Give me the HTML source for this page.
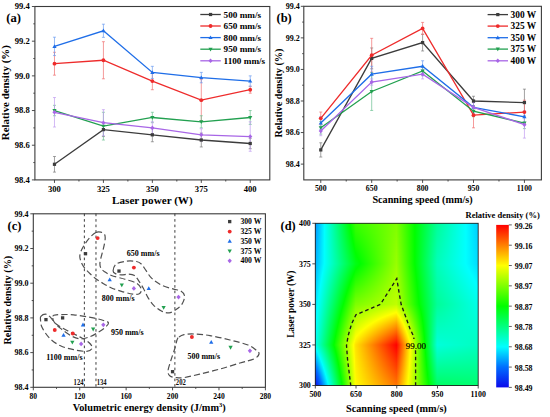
<!DOCTYPE html>
<html><head><meta charset="utf-8"><style>
html,body{margin:0;padding:0;background:#fff;width:550px;height:417px;overflow:hidden;font-family:"Liberation Serif",serif}
body{position:relative}
#hm{position:absolute;overflow:hidden}#hm div{position:absolute;left:0;width:100%;height:1px}
</style></head><body>
<div id="hm" style="left:315.3px;top:223px;width:162.9px;height:163px"><div style="top:0px;background:linear-gradient(90deg,#0092ff 0px,#00ffff 9.52px,#00ff00 34.84px,#3bff00 40.72px,#7eff00 81.45px,#00ff00 99.87px,#00ff99 122.18px,#00ffff 150.87px,#00ceff 162.9px)"></div><div style="top:1px;background:linear-gradient(90deg,#0093ff 0px,#00ffff 9.52px,#00ff00 35px,#39ff00 40.72px,#7fff00 81.45px,#00ff00 99.87px,#00ff99 122.18px,#00ffff 150.86px,#00ceff 162.9px)"></div><div style="top:2px;background:linear-gradient(90deg,#0093ff 0px,#00ffff 9.52px,#00ff00 35.16px,#37ff00 40.72px,#7fff00 81.45px,#00ff00 99.87px,#00ff9a 122.18px,#00ffff 150.86px,#00cfff 162.9px)"></div><div style="top:3px;background:linear-gradient(90deg,#0094ff 0px,#00ffff 9.51px,#00ff00 35.33px,#35ff00 40.72px,#80ff00 81.45px,#00ff00 99.87px,#00ff9b 122.18px,#00ffff 150.86px,#00cfff 162.9px)"></div><div style="top:4px;background:linear-gradient(90deg,#0095ff 0px,#00ffff 9.51px,#00ff00 35.49px,#33ff00 40.72px,#81ff00 81.45px,#00ff00 99.87px,#00ff9c 122.18px,#00ffff 150.85px,#00d0ff 162.9px)"></div><div style="top:5px;background:linear-gradient(90deg,#0096ff 0px,#00ffff 9.5px,#00ff00 35.66px,#31ff00 40.72px,#81ff00 81.45px,#00ff00 99.86px,#00ff9d 122.18px,#00ffff 150.85px,#00d0ff 162.9px)"></div><div style="top:6px;background:linear-gradient(90deg,#0096ff 0px,#00ffff 9.5px,#00ff00 35.83px,#2fff00 40.72px,#82ff00 81.45px,#00ff00 99.86px,#00ff9d 122.18px,#00ffff 150.85px,#00d0ff 162.9px)"></div><div style="top:7px;background:linear-gradient(90deg,#0097ff 0px,#00ffff 9.49px,#00ff00 36px,#2dff00 40.72px,#83ff00 81.45px,#00ff00 99.86px,#00ff9e 122.18px,#00ffff 150.84px,#00d1ff 162.9px)"></div><div style="top:8px;background:linear-gradient(90deg,#0098ff 0px,#00ffff 9.49px,#00ff00 36.17px,#2cff00 40.72px,#83ff00 81.45px,#00ff00 99.86px,#00ff9f 122.18px,#00ffff 150.84px,#00d1ff 162.9px)"></div><div style="top:9px;background:linear-gradient(90deg,#0099ff 0px,#00ffff 9.48px,#00ff00 36.35px,#2aff00 40.72px,#84ff00 81.45px,#00ff00 99.86px,#00ffa0 122.18px,#00ffff 150.84px,#00d1ff 162.9px)"></div><div style="top:10px;background:linear-gradient(90deg,#0099ff 0px,#00ffff 9.48px,#00ff00 36.52px,#28ff00 40.72px,#85ff00 81.45px,#00ff00 99.86px,#00ffa1 122.18px,#00ffff 150.83px,#00d2ff 162.9px)"></div><div style="top:11px;background:linear-gradient(90deg,#009aff 0px,#00ffff 9.47px,#00ff00 36.7px,#26ff00 40.72px,#85ff00 81.45px,#00ff00 99.86px,#00ffa1 122.18px,#00ffff 150.83px,#00d2ff 162.9px)"></div><div style="top:12px;background:linear-gradient(90deg,#009bff 0px,#00ffff 9.47px,#00ff00 36.89px,#24ff00 40.72px,#86ff00 81.45px,#00ff00 99.85px,#00ffa2 122.18px,#00ffff 150.83px,#00d3ff 162.9px)"></div><div style="top:13px;background:linear-gradient(90deg,#009cff 0px,#00ffff 9.46px,#00ff00 37.07px,#22ff00 40.72px,#86ff00 81.45px,#00ff00 99.85px,#00ffa3 122.18px,#00ffff 150.82px,#00d3ff 162.9px)"></div><div style="top:14px;background:linear-gradient(90deg,#009cff 0px,#00ffff 9.46px,#00ff00 37.26px,#20ff00 40.72px,#87ff00 81.45px,#00ff00 99.85px,#00ffa4 122.18px,#00ffff 150.82px,#00d3ff 162.9px)"></div><div style="top:15px;background:linear-gradient(90deg,#009dff 0px,#00ffff 9.45px,#00ff00 37.45px,#1eff00 40.72px,#88ff00 81.45px,#00ff00 99.85px,#00ffa5 122.18px,#00ffff 150.81px,#00d4ff 162.9px)"></div><div style="top:16px;background:linear-gradient(90deg,#009eff 0px,#00ffff 9.45px,#00ff00 37.64px,#1cff00 40.72px,#88ff00 81.45px,#00ff00 99.85px,#00ffa6 122.18px,#00ffff 150.81px,#00d4ff 162.9px)"></div><div style="top:17px;background:linear-gradient(90deg,#009fff 0px,#00ffff 9.44px,#00ff00 37.84px,#1aff00 40.72px,#89ff00 81.45px,#00ff00 99.85px,#00ffa6 122.18px,#00ffff 150.81px,#00d4ff 162.9px)"></div><div style="top:18px;background:linear-gradient(90deg,#009fff 0px,#00ffff 9.44px,#00ff00 38.04px,#18ff00 40.72px,#8aff00 81.45px,#00ff00 99.84px,#00ffa7 122.18px,#00ffff 150.8px,#00d5ff 162.9px)"></div><div style="top:19px;background:linear-gradient(90deg,#00a0ff 0px,#00ffff 9.43px,#00ff00 38.24px,#16ff00 40.72px,#8aff00 81.45px,#00ff00 99.84px,#00ffa8 122.18px,#00ffff 150.8px,#00d5ff 162.9px)"></div><div style="top:20px;background:linear-gradient(90deg,#00a1ff 0px,#00ffff 9.43px,#00ff00 38.45px,#14ff00 40.72px,#8bff00 81.45px,#00ff00 99.84px,#00ffa9 122.18px,#00ffff 150.79px,#00d6ff 162.9px)"></div><div style="top:21px;background:linear-gradient(90deg,#00a2ff 0px,#00ffff 9.42px,#00ff00 38.65px,#12ff00 40.72px,#8cff00 81.45px,#00ff00 99.84px,#00ffaa 122.18px,#00ffff 150.79px,#00d6ff 162.9px)"></div><div style="top:22px;background:linear-gradient(90deg,#00a2ff 0px,#00ffff 9.42px,#00ff00 38.87px,#10ff00 40.72px,#8cff00 81.45px,#00ff00 99.84px,#00ffaa 122.18px,#00ffff 150.78px,#00d6ff 162.9px)"></div><div style="top:23px;background:linear-gradient(90deg,#00a3ff 0px,#00ffff 9.41px,#00ff00 39.08px,#0eff00 40.72px,#8dff00 81.45px,#00ff00 99.84px,#00ffab 122.18px,#00ffff 150.78px,#00d7ff 162.9px)"></div><div style="top:24px;background:linear-gradient(90deg,#00a4ff 0px,#00ffff 9.4px,#00ff00 39.3px,#0cff00 40.72px,#8eff00 81.45px,#00ff00 99.84px,#00ffac 122.18px,#00ffff 150.77px,#00d7ff 162.9px)"></div><div style="top:25px;background:linear-gradient(90deg,#00a5ff 0px,#00ffff 9.4px,#00ff00 39.52px,#0aff00 40.72px,#8eff00 81.45px,#00ff00 99.84px,#00ffad 122.18px,#00ffff 150.77px,#00d7ff 162.9px)"></div><div style="top:26px;background:linear-gradient(90deg,#00a5ff 0px,#00ffff 9.39px,#00ff00 39.74px,#08ff00 40.72px,#8fff00 81.45px,#00ff00 99.83px,#00ffae 122.18px,#00ffff 150.76px,#00d8ff 162.9px)"></div><div style="top:27px;background:linear-gradient(90deg,#00a6ff 0px,#00ffff 9.39px,#00ff00 39.97px,#06ff00 40.72px,#90ff00 81.45px,#00ff00 99.83px,#00ffaf 122.18px,#00ffff 150.76px,#00d8ff 162.9px)"></div><div style="top:28px;background:linear-gradient(90deg,#00a7ff 0px,#00ffff 9.38px,#00ff00 40.2px,#04ff00 40.72px,#90ff00 81.45px,#00ff00 99.83px,#00ffaf 122.18px,#00ffff 150.75px,#00d9ff 162.9px)"></div><div style="top:29px;background:linear-gradient(90deg,#00a7ff 0px,#00ffff 9.37px,#00ff00 40.44px,#02ff00 40.72px,#91ff00 81.45px,#00ff00 99.83px,#00ffb0 122.18px,#00ffff 150.75px,#00d9ff 162.9px)"></div><div style="top:30px;background:linear-gradient(90deg,#00a8ff 0px,#00ffff 9.37px,#00ff00 40.67px,#00ff00 40.72px,#92ff00 81.45px,#00ff00 99.83px,#00ffb1 122.18px,#00ffff 150.74px,#00d9ff 162.9px)"></div><div style="top:31px;background:linear-gradient(90deg,#00a9ff 0px,#00ffff 9.36px,#00ff02 40.72px,#00ff00 41.15px,#92ff00 81.45px,#00ff00 99.83px,#00ffb2 122.18px,#00ffff 150.74px,#00daff 162.9px)"></div><div style="top:32px;background:linear-gradient(90deg,#00aaff 0px,#00ffff 9.36px,#00ff04 40.72px,#00ff00 41.67px,#93ff00 81.45px,#00ff00 99.83px,#00ffb3 122.18px,#00ffff 150.73px,#00daff 162.9px)"></div><div style="top:33px;background:linear-gradient(90deg,#00aaff 0px,#00ffff 9.35px,#00ff05 40.72px,#00ff00 42.18px,#94ff00 81.45px,#00ff00 99.82px,#00ffb3 122.18px,#00ffff 150.73px,#00daff 162.9px)"></div><div style="top:34px;background:linear-gradient(90deg,#00abff 0px,#00ffff 9.34px,#00ff07 40.72px,#00ff00 42.67px,#94ff00 81.45px,#00ff00 99.82px,#00ffb4 122.18px,#00ffff 150.72px,#00dbff 162.9px)"></div><div style="top:35px;background:linear-gradient(90deg,#00acff 0px,#00ffff 9.33px,#00ff09 40.72px,#00ff00 43.14px,#95ff00 81.45px,#00ff00 99.82px,#00ffb5 122.18px,#00ffff 150.72px,#00dbff 162.9px)"></div><div style="top:36px;background:linear-gradient(90deg,#00adff 0px,#00ffff 9.33px,#00ff0b 40.72px,#00ff00 43.6px,#95ff00 81.45px,#00ff00 99.82px,#00ffb6 122.18px,#00ffff 150.71px,#00dbff 162.9px)"></div><div style="top:37px;background:linear-gradient(90deg,#00adff 0px,#00ffff 9.32px,#00ff0d 40.72px,#00ff00 44.04px,#96ff00 81.45px,#00ff00 99.82px,#00ffb7 122.18px,#00ffff 150.7px,#00dcff 162.9px)"></div><div style="top:38px;background:linear-gradient(90deg,#00aeff 0px,#00ffff 9.31px,#00ff0f 40.72px,#00ff00 44.47px,#97ff00 81.45px,#00ff00 99.82px,#00ffb8 122.18px,#00ffff 150.7px,#00dcff 162.9px)"></div><div style="top:39px;background:linear-gradient(90deg,#00afff 0px,#00ffff 9.31px,#00ff11 40.72px,#00ff00 44.88px,#97ff00 81.45px,#00ff00 99.82px,#00ffb8 122.18px,#00ffff 150.69px,#00ddff 162.9px)"></div><div style="top:40px;background:linear-gradient(90deg,#00b0ff 0px,#00ffff 9.3px,#00ff13 40.72px,#00ff00 45.29px,#98ff00 81.45px,#00ff00 99.82px,#00ffb9 122.18px,#00ffff 150.68px,#00ddff 162.9px)"></div><div style="top:41px;background:linear-gradient(90deg,#00b1ff 0px,#00ffff 9.16px,#00ff12 40.72px,#00ff00 44.91px,#99ff00 81.45px,#00ff00 99.89px,#00ffb9 122.18px,#00ffff 150.99px,#00deff 162.9px)"></div><div style="top:42px;background:linear-gradient(90deg,#00b2ff 0px,#00ffff 8.95px,#00ff0e 40.72px,#00ff00 44.11px,#9aff00 81.45px,#00ff00 100px,#00ffb8 122.18px,#00ffff 151.47px,#00e0ff 162.9px)"></div><div style="top:43px;background:linear-gradient(90deg,#00b3ff 0px,#00ffff 8.75px,#00ff0a 40.72px,#00ff00 43.27px,#9bff00 81.45px,#00ff00 100.11px,#00ffb7 122.18px,#00ffff 151.96px,#00e1ff 162.9px)"></div><div style="top:44px;background:linear-gradient(90deg,#00b4ff 0px,#00ffff 8.55px,#00ff07 40.72px,#00ff00 42.42px,#9cff00 81.45px,#00ff00 100.21px,#00ffb6 122.18px,#00ffff 152.45px,#00e3ff 162.9px)"></div><div style="top:45px;background:linear-gradient(90deg,#00b5ff 0px,#00ffff 8.35px,#00ff03 40.72px,#00ff00 41.53px,#9dff00 81.45px,#00ff00 100.32px,#00ffb6 122.18px,#00ffff 152.94px,#00e4ff 162.9px)"></div><div style="top:46px;background:linear-gradient(90deg,#00b6ff 0px,#00ffff 8.16px,#00ff00 40.67px,#00ff00 40.72px,#9eff00 81.45px,#00ff00 100.43px,#00ffb5 122.18px,#00ffff 153.45px,#00e6ff 162.9px)"></div><div style="top:47px;background:linear-gradient(90deg,#00b7ff 0px,#00ffff 7.97px,#00ff00 40.22px,#04ff00 40.72px,#9fff00 81.45px,#00ff00 100.54px,#00ffb4 122.18px,#00ffff 153.95px,#00e7ff 162.9px)"></div><div style="top:48px;background:linear-gradient(90deg,#00b8ff 0px,#00ffff 7.78px,#00ff00 39.77px,#08ff00 40.72px,#a0ff00 81.45px,#00ff00 100.65px,#00ffb3 122.18px,#00ffff 154.46px,#00e8ff 162.9px)"></div><div style="top:49px;background:linear-gradient(90deg,#00baff 0px,#00ffff 7.6px,#00ff00 39.33px,#0bff00 40.72px,#a1ff00 81.45px,#00ff00 100.76px,#00ffb2 122.18px,#00ffff 154.98px,#00eaff 162.9px)"></div><div style="top:50px;background:linear-gradient(90deg,#00bbff 0px,#00ffff 7.42px,#00ff00 38.9px,#0fff00 40.72px,#a2ff00 81.45px,#00ff00 100.87px,#00ffb2 122.18px,#00ffff 155.5px,#00ebff 162.9px)"></div><div style="top:51px;background:linear-gradient(90deg,#00bcff 0px,#00ffff 7.24px,#00ff00 38.47px,#12ff00 40.72px,#a3ff00 81.45px,#00ff00 100.97px,#00ffb1 122.18px,#00ffff 156.03px,#00edff 162.9px)"></div><div style="top:52px;background:linear-gradient(90deg,#00bdff 0px,#00ffff 7.06px,#00ff00 38.05px,#16ff00 40.72px,#a4ff00 81.45px,#00ff00 101.08px,#00ffb0 122.18px,#00ffff 156.56px,#00eeff 162.9px)"></div><div style="top:53px;background:linear-gradient(90deg,#00beff 0px,#00ffff 6.89px,#00ff00 37.64px,#1aff00 40.72px,#a5ff00 81.45px,#00ff00 101.19px,#00ffaf 122.18px,#00ffff 157.1px,#00f0ff 162.9px)"></div><div style="top:54px;background:linear-gradient(90deg,#00bfff 0px,#00ffff 6.72px,#00ff00 37.23px,#1dff00 40.72px,#a6ff00 81.45px,#00ff00 101.3px,#00ffae 122.18px,#00ffff 157.64px,#00f1ff 162.9px)"></div><div style="top:55px;background:linear-gradient(90deg,#00c0ff 0px,#00ffff 6.55px,#00ff00 36.83px,#21ff00 40.72px,#a7ff00 81.45px,#00ff00 101.41px,#00ffad 122.18px,#00ffff 158.19px,#00f3ff 162.9px)"></div><div style="top:56px;background:linear-gradient(90deg,#00c1ff 0px,#00ffff 6.39px,#00ff00 36.44px,#24ff00 40.72px,#a8ff00 81.45px,#00ff00 101.51px,#00ffad 122.18px,#00ffff 158.74px,#00f4ff 162.9px)"></div><div style="top:57px;background:linear-gradient(90deg,#00c2ff 0px,#00ffff 6.23px,#00ff00 36.05px,#28ff00 40.72px,#a9ff00 81.45px,#00ff00 101.62px,#00ffac 122.18px,#00ffff 159.31px,#00f6ff 162.9px)"></div><div style="top:58px;background:linear-gradient(90deg,#00c4ff 0px,#00ffff 6.07px,#00ff00 35.67px,#2cff00 40.72px,#aaff00 81.45px,#00ff00 101.73px,#00ffab 122.18px,#00ffff 159.87px,#00f7ff 162.9px)"></div><div style="top:59px;background:linear-gradient(90deg,#00c5ff 0px,#00ffff 5.91px,#00ff00 35.29px,#2fff00 40.72px,#abff00 81.45px,#00ff00 101.84px,#00ffaa 122.18px,#00ffff 160.45px,#00f9ff 162.9px)"></div><div style="top:60px;background:linear-gradient(90deg,#00c6ff 0px,#00ffff 5.75px,#00ff00 34.92px,#33ff00 40.72px,#acff00 81.45px,#00ff00 101.94px,#00ffa9 122.18px,#00ffff 161.03px,#00faff 162.9px)"></div><div style="top:61px;background:linear-gradient(90deg,#00c7ff 0px,#00ffff 5.6px,#00ff00 34.56px,#36ff00 40.72px,#adff00 81.45px,#00ff00 102.05px,#00ffa9 122.18px,#00ffff 161.61px,#00fcff 162.9px)"></div><div style="top:62px;background:linear-gradient(90deg,#00c8ff 0px,#00ffff 5.45px,#00ff00 34.19px,#3aff00 40.72px,#aeff00 81.45px,#00ff00 102.16px,#00ffa8 122.18px,#00ffff 162.2px,#00fdff 162.9px)"></div><div style="top:63px;background:linear-gradient(90deg,#00c9ff 0px,#00ffff 5.3px,#00ff00 33.84px,#3eff00 40.72px,#afff00 81.45px,#00ff00 102.26px,#00ffa7 122.18px,#00ffff 162.8px,#00ffff 162.9px)"></div><div style="top:64px;background:linear-gradient(90deg,#00caff 0px,#00ffff 5.15px,#00ff00 33.49px,#41ff00 40.72px,#b0ff00 81.45px,#00ff00 102.37px,#00ffa6 122.18px,#00fffe 162.9px)"></div><div style="top:65px;background:linear-gradient(90deg,#00cbff 0px,#00ffff 5.01px,#00ff00 33.14px,#45ff00 40.72px,#b0ff00 81.45px,#00ff00 102.48px,#00ffa5 122.18px,#00fffd 162.9px)"></div><div style="top:66px;background:linear-gradient(90deg,#00ccff 0px,#00ffff 4.87px,#00ff00 32.8px,#48ff00 40.72px,#b1ff00 81.45px,#00ff00 102.58px,#00ffa5 122.18px,#00fffb 162.9px)"></div><div style="top:67px;background:linear-gradient(90deg,#00ceff 0px,#00ffff 4.72px,#00ff00 32.47px,#4cff00 40.72px,#b2ff00 81.45px,#00ff00 102.69px,#00ffa4 122.18px,#00fffa 162.9px)"></div><div style="top:68px;background:linear-gradient(90deg,#00cfff 0px,#00ffff 4.59px,#00ff00 32.14px,#4fff00 40.72px,#b3ff00 81.45px,#00ff00 102.8px,#00ffa3 122.18px,#00fff9 162.9px)"></div><div style="top:69px;background:linear-gradient(90deg,#00d0ff 0px,#00ffff 4.45px,#00ff00 31.81px,#53ff00 40.72px,#b4ff00 81.45px,#00ff00 102.9px,#00ffa2 122.18px,#00fff7 162.9px)"></div><div style="top:70px;background:linear-gradient(90deg,#00d1ff 0px,#00ffff 4.31px,#00ff00 31.49px,#57ff00 40.72px,#b5ff00 81.45px,#00ff00 103.01px,#00ffa1 122.18px,#00fff6 162.9px)"></div><div style="top:71px;background:linear-gradient(90deg,#00d2ff 0px,#00ffff 4.18px,#00ff00 31.17px,#5aff00 40.72px,#b6ff00 81.45px,#00ff00 103.12px,#00ffa0 122.18px,#00fff5 162.9px)"></div><div style="top:72px;background:linear-gradient(90deg,#00d3ff 0px,#00ffff 4.05px,#00ff00 30.86px,#5eff00 40.72px,#b7ff00 81.45px,#00ff00 103.22px,#00ffa0 122.18px,#00fff3 162.9px)"></div><div style="top:73px;background:linear-gradient(90deg,#00d4ff 0px,#00ffff 3.92px,#00ff00 30.55px,#61ff00 40.72px,#b8ff00 81.45px,#00ff00 103.33px,#00ff9f 122.18px,#00fff2 162.9px)"></div><div style="top:74px;background:linear-gradient(90deg,#00d5ff 0px,#00ffff 3.79px,#00ff00 30.24px,#65ff00 40.72px,#b9ff00 81.45px,#00ff00 103.43px,#00ff9e 122.18px,#00fff1 162.9px)"></div><div style="top:75px;background:linear-gradient(90deg,#00d7ff 0px,#00ffff 3.67px,#00ff00 29.94px,#69ff00 40.72px,#baff00 81.45px,#00ff00 103.54px,#00ff9d 122.18px,#00fff0 162.9px)"></div><div style="top:76px;background:linear-gradient(90deg,#00d8ff 0px,#00ffff 3.54px,#00ff00 29.65px,#6cff00 40.72px,#bbff00 81.45px,#00ff00 103.65px,#00ff9c 122.18px,#00ffee 162.9px)"></div><div style="top:77px;background:linear-gradient(90deg,#00d9ff 0px,#00ffff 3.42px,#00ff00 29.35px,#70ff00 40.72px,#bcff00 81.45px,#00ff00 103.75px,#00ff9c 122.18px,#00ffed 162.9px)"></div><div style="top:78px;background:linear-gradient(90deg,#00daff 0px,#00ffff 3.3px,#00ff00 29.06px,#73ff00 40.72px,#bdff00 81.45px,#00ff00 103.86px,#00ff9b 122.18px,#00ffec 162.9px)"></div><div style="top:79px;background:linear-gradient(90deg,#00dbff 0px,#00ffff 3.18px,#00ff00 28.78px,#77ff00 40.72px,#beff00 81.45px,#00ff00 103.96px,#00ff9a 122.18px,#00ffea 162.9px)"></div><div style="top:80px;background:linear-gradient(90deg,#00dcff 0px,#00ffff 3.06px,#00ff00 28.5px,#7bff00 40.72px,#bfff00 81.45px,#00ff00 104.07px,#00ff99 122.18px,#00ffe9 162.9px)"></div><div style="top:81px;background:linear-gradient(90deg,#00ddff 0px,#00ffff 2.94px,#00ff00 28.21px,#7eff00 40.72px,#c1ff00 81.45px,#00ff00 104.19px,#00ff99 122.18px,#00ffe8 162.9px)"></div><div style="top:82px;background:linear-gradient(90deg,#00deff 0px,#00ffff 2.83px,#00ff00 27.92px,#82ff00 40.72px,#c9ff00 81.45px,#00ff00 104.48px,#00ff9a 122.18px,#00ffe7 162.9px)"></div><div style="top:83px;background:linear-gradient(90deg,#00dfff 0px,#00ffff 2.71px,#00ff00 27.63px,#86ff00 40.72px,#d1ff00 81.45px,#00ff00 104.76px,#00ff9c 122.18px,#00ffe6 162.9px)"></div><div style="top:84px;background:linear-gradient(90deg,#00e1ff 0px,#00ffff 2.6px,#00ff00 27.34px,#8aff00 40.72px,#d8ff00 81.45px,#00ff00 105.03px,#00ff9d 122.18px,#00ffe5 162.9px)"></div><div style="top:85px;background:linear-gradient(90deg,#00e2ff 0px,#00ffff 2.48px,#00ff00 27.05px,#8eff00 40.72px,#e0ff00 81.45px,#00ff00 105.28px,#00ff9f 122.18px,#00ffe4 162.9px)"></div><div style="top:86px;background:linear-gradient(90deg,#00e3ff 0px,#00ffff 2.37px,#00ff00 26.77px,#92ff00 40.72px,#e8ff00 81.45px,#00ff00 105.51px,#00ffa1 122.18px,#00ffe3 162.9px)"></div><div style="top:87px;background:linear-gradient(90deg,#00e4ff 0px,#00ffff 2.26px,#00ff00 26.49px,#96ff00 40.72px,#f0ff00 81.45px,#00ff00 105.74px,#00ffa2 122.18px,#00ffe2 162.9px)"></div><div style="top:88px;background:linear-gradient(90deg,#00e5ff 0px,#00ffff 2.16px,#00ff00 26.22px,#9aff00 40.72px,#f8ff00 81.45px,#00ff00 105.96px,#00ffa4 122.18px,#00ffe1 162.9px)"></div><div style="top:89px;background:linear-gradient(90deg,#00e6ff 0px,#00ffff 2.05px,#00ff00 25.95px,#9eff00 40.72px,#ffff00 81.21px,#fffe00 81.45px,#ffff00 81.51px,#00ff00 106.16px,#00ffa6 122.18px,#00ffe0 162.9px)"></div><div style="top:90px;background:linear-gradient(90deg,#00e7ff 0px,#00ffff 1.94px,#00ff00 25.69px,#a2ff00 40.72px,#ffff00 78.08px,#fff700 81.45px,#ffff00 82.25px,#00ff00 106.36px,#00ffa7 122.18px,#00ffdf 162.9px)"></div><div style="top:91px;background:linear-gradient(90deg,#00e8ff 0px,#00ffff 1.84px,#00ff00 25.42px,#a5ff00 40.72px,#ffff00 75.19px,#ffef00 81.45px,#ffff00 82.96px,#00ff00 106.55px,#00ffa9 122.18px,#00ffde 162.9px)"></div><div style="top:92px;background:linear-gradient(90deg,#00e9ff 0px,#00ffff 1.74px,#00ff00 25.17px,#a9ff00 40.72px,#ffff00 72.51px,#ffe700 81.45px,#ffff00 83.63px,#00ff00 106.73px,#00ffaa 122.18px,#00ffdd 162.9px)"></div><div style="top:93px;background:linear-gradient(90deg,#00ebff 0px,#00ffff 1.64px,#00ff00 24.91px,#adff00 40.72px,#ffff00 70px,#ffdf00 81.45px,#ffff00 84.28px,#00ff00 106.91px,#00ffac 122.18px,#00ffdc 162.9px)"></div><div style="top:94px;background:linear-gradient(90deg,#00ecff 0px,#00ffff 1.54px,#00ff00 24.66px,#b1ff00 40.72px,#ffff00 67.67px,#ffd700 81.45px,#ffff00 84.91px,#00ff00 107.07px,#00ffae 122.18px,#00ffdb 162.9px)"></div><div style="top:95px;background:linear-gradient(90deg,#00edff 0px,#00ffff 1.44px,#00ff00 24.41px,#b5ff00 40.72px,#ffff00 65.49px,#ffcf00 81.45px,#ffff00 85.51px,#00ff00 107.23px,#00ffaf 122.18px,#00ffda 162.9px)"></div><div style="top:96px;background:linear-gradient(90deg,#00eeff 0px,#00ffff 1.34px,#00ff00 24.16px,#b9ff00 40.72px,#ffff00 63.44px,#ffc800 81.45px,#ffff00 86.08px,#00ff00 107.39px,#00ffb1 122.18px,#00ffd9 162.9px)"></div><div style="top:97px;background:linear-gradient(90deg,#00efff 0px,#00ffff 1.25px,#00ff00 23.92px,#bdff00 40.72px,#ffff00 61.52px,#ffc000 81.45px,#ffff00 86.64px,#00ff00 107.54px,#00ffb3 122.18px,#00ffd8 162.9px)"></div><div style="top:98px;background:linear-gradient(90deg,#00f0ff 0px,#00ffff 1.15px,#00ff00 23.68px,#c1ff00 40.72px,#ffff00 59.71px,#ffb800 81.45px,#ffff00 87.17px,#00ff00 107.68px,#00ffb4 122.18px,#00ffd7 162.9px)"></div><div style="top:99px;background:linear-gradient(90deg,#00f1ff 0px,#00ffff 1.06px,#00ff00 23.45px,#c5ff00 40.72px,#ffff00 58px,#ffb000 81.45px,#ffff00 87.69px,#00ff00 107.82px,#00ffb6 122.18px,#00ffd6 162.9px)"></div><div style="top:100px;background:linear-gradient(90deg,#00f2ff 0px,#00ffff 0.97px,#00ff00 23.21px,#c9ff00 40.72px,#ffff00 56.39px,#ffa800 81.45px,#ffff00 88.18px,#00ff00 107.95px,#00ffb8 122.18px,#00ffd5 162.9px)"></div><div style="top:101px;background:linear-gradient(90deg,#00f4ff 0px,#00ffff 0.88px,#00ff00 22.98px,#cdff00 40.72px,#ffff00 54.87px,#ffa000 81.45px,#ffff00 88.66px,#00ff00 108.08px,#00ffb9 122.18px,#00ffd4 162.9px)"></div><div style="top:102px;background:linear-gradient(90deg,#00f5ff 0px,#00ffff 0.79px,#00ff00 22.76px,#d1ff00 40.72px,#ffff00 53.42px,#ff9800 81.45px,#ffff00 89.12px,#00ff00 108.2px,#00ffbb 122.18px,#00ffd3 162.9px)"></div><div style="top:103px;background:linear-gradient(90deg,#00f6ff 0px,#00ffff 0.7px,#00ff00 22.53px,#d4ff00 40.72px,#ffff00 52.05px,#ff9100 81.45px,#ffff00 89.56px,#00ff00 108.32px,#00ffbc 122.18px,#00ffd2 162.9px)"></div><div style="top:104px;background:linear-gradient(90deg,#00f7ff 0px,#00ffff 0.61px,#00ff00 22.31px,#d8ff00 40.72px,#ffff00 50.75px,#ff8900 81.45px,#ffff00 90px,#00ff00 108.43px,#00ffbe 122.18px,#00ffd1 162.9px)"></div><div style="top:105px;background:linear-gradient(90deg,#00f8ff 0px,#00ffff 0.52px,#00ff00 22.09px,#dcff00 40.72px,#ffff00 49.51px,#ff8100 81.45px,#ffff00 90.41px,#00ff00 108.54px,#00ffc0 122.18px,#00ffd0 162.9px)"></div><div style="top:106px;background:linear-gradient(90deg,#00f9ff 0px,#00ffff 0.44px,#00ff00 21.87px,#e0ff00 40.72px,#ffff00 48.33px,#ff7900 81.45px,#ffff00 90.81px,#00ff00 108.65px,#00ffc1 122.18px,#00ffcf 162.9px)"></div><div style="top:107px;background:linear-gradient(90deg,#00faff 0px,#00ffff 0.35px,#00ff00 21.66px,#e4ff00 40.72px,#ffff00 47.21px,#ff7100 81.45px,#ffff00 91.2px,#00ff00 108.76px,#00ffc3 122.18px,#00ffce 162.9px)"></div><div style="top:108px;background:linear-gradient(90deg,#00fbff 0px,#00ffff 0.27px,#00ff00 21.45px,#e8ff00 40.72px,#ffff00 46.14px,#ff6900 81.45px,#ffff00 91.58px,#00ff00 108.86px,#00ffc5 122.18px,#00ffcd 162.9px)"></div><div style="top:109px;background:linear-gradient(90deg,#00fcff 0px,#00ffff 0.19px,#00ff00 21.24px,#ecff00 40.72px,#ffff00 45.11px,#ff6200 81.45px,#ffff00 91.95px,#00ff00 108.95px,#00ffc6 122.18px,#00ffcc 162.9px)"></div><div style="top:110px;background:linear-gradient(90deg,#00feff 0px,#00ffff 0.11px,#00ff00 21.03px,#f0ff00 40.72px,#ffff00 44.13px,#ff5a00 81.45px,#ffff00 92.3px,#00ff00 109.05px,#00ffc8 122.18px,#00ffcb 162.9px)"></div><div style="top:111px;background:linear-gradient(90deg,#00ffff 0px,#00ffff 0.02px,#00ff00 20.83px,#f4ff00 40.72px,#ffff00 43.19px,#ff5200 81.45px,#ffff00 92.65px,#00ff00 109.14px,#00ffca 122.18px,#00ffca 162.9px)"></div><div style="top:112px;background:linear-gradient(90deg,#00fffe 0px,#00ff00 20.63px,#f8ff00 40.72px,#ffff00 42.29px,#ff4a00 81.45px,#ffff00 92.98px,#00ff00 109.23px,#00ffcb 122.18px,#00ffc9 162.9px)"></div><div style="top:113px;background:linear-gradient(90deg,#00fffd 0px,#00ff00 20.43px,#fcff00 40.72px,#ffff00 41.43px,#ff4200 81.45px,#ffff00 93.3px,#00ff00 109.32px,#00ffcd 122.18px,#00ffc8 162.9px)"></div><div style="top:114px;background:linear-gradient(90deg,#00fffc 0px,#00ff00 20.23px,#ffff00 40.68px,#fffe00 40.72px,#ff3a00 81.45px,#ffff00 93.62px,#00ff00 109.4px,#00ffce 122.18px,#00ffc7 162.9px)"></div><div style="top:115px;background:linear-gradient(90deg,#00fffb 0px,#00ff00 20.04px,#ffff00 40.36px,#fffa00 40.72px,#ff3300 81.45px,#ffff00 93.92px,#00ff00 109.48px,#00ffd0 122.18px,#00ffc6 162.9px)"></div><div style="top:116px;background:linear-gradient(90deg,#00fffa 0px,#00ff00 19.85px,#ffff00 40.06px,#fff700 40.72px,#ff2b00 81.45px,#ffff00 94.22px,#00ff00 109.56px,#00ffd2 122.18px,#00ffc5 162.9px)"></div><div style="top:117px;background:linear-gradient(90deg,#00fff9 0px,#00ff00 19.66px,#ffff00 39.75px,#fff300 40.72px,#ff2300 81.45px,#ffff00 94.51px,#00ff00 109.64px,#00ffd3 122.18px,#00ffc4 162.9px)"></div><div style="top:118px;background:linear-gradient(90deg,#00fff8 0px,#00ff00 19.47px,#ffff00 39.45px,#ffef00 40.72px,#ff1b00 81.45px,#ffff00 94.79px,#00ff00 109.71px,#00ffd5 122.18px,#00ffc3 162.9px)"></div><div style="top:119px;background:linear-gradient(90deg,#00fff7 0px,#00ff00 19.28px,#ffff00 39.15px,#ffeb00 40.72px,#ff1300 81.45px,#ffff00 95.06px,#00ff00 109.79px,#00ffd7 122.18px,#00ffc2 162.9px)"></div><div style="top:120px;background:linear-gradient(90deg,#00fff6 0px,#00ff00 19.1px,#ffff00 38.86px,#ffe700 40.72px,#ff0b00 81.45px,#ffff00 95.33px,#00ff00 109.86px,#00ffd8 122.18px,#00ffc1 162.9px)"></div><div style="top:121px;background:linear-gradient(90deg,#00fff6 0px,#00ff00 18.92px,#ffff00 38.56px,#ffe300 40.72px,#ff0400 81.45px,#ffff00 95.59px,#00ff00 109.93px,#00ffda 122.18px,#00ffc1 162.9px)"></div><div style="top:122px;background:linear-gradient(90deg,#00fff9 0px,#00ff00 19px,#ffff00 38.48px,#ffe200 40.72px,#ff0200 81.45px,#ffff00 95.68px,#00ff00 109.99px,#00ffd9 122.18px,#00ffbf 162.9px)"></div><div style="top:123px;background:linear-gradient(90deg,#00ffff 0px,#00ffff 0.01px,#00ff00 19.28px,#ffff00 38.55px,#ffe200 40.72px,#ff0500 81.45px,#ffff00 95.63px,#00ff00 110.06px,#00ffd6 122.18px,#00ffbd 162.9px)"></div><div style="top:124px;background:linear-gradient(90deg,#00f7ff 0px,#00ffff 0.5px,#00ff00 19.56px,#ffff00 38.62px,#ffe300 40.72px,#ff0700 81.45px,#ffff00 95.58px,#00ff00 110.13px,#00ffd3 122.18px,#00ffbb 162.9px)"></div><div style="top:125px;background:linear-gradient(90deg,#00f0ff 0px,#00ffff 0.98px,#00ff00 19.84px,#ffff00 38.69px,#ffe400 40.72px,#ff0a00 81.45px,#ffff00 95.52px,#00ff00 110.2px,#00ffd0 122.18px,#00ffb9 162.9px)"></div><div style="top:126px;background:linear-gradient(90deg,#00e8ff 0px,#00ffff 1.45px,#00ff00 20.1px,#ffff00 38.76px,#ffe400 40.72px,#ff0d00 81.45px,#ffff00 95.47px,#00ff00 110.27px,#00ffcd 122.18px,#00ffb7 162.9px)"></div><div style="top:127px;background:linear-gradient(90deg,#00e1ff 0px,#00ffff 1.91px,#00ff00 20.37px,#ffff00 38.83px,#ffe500 40.72px,#ff1000 81.45px,#ffff00 95.42px,#00ff00 110.34px,#00ffca 122.18px,#00ffb5 162.9px)"></div><div style="top:128px;background:linear-gradient(90deg,#00daff 0px,#00ffff 2.35px,#00ff00 20.63px,#ffff00 38.9px,#ffe500 40.72px,#ff1300 81.45px,#ffff00 95.36px,#00ff00 110.41px,#00ffc7 122.18px,#00ffb3 162.9px)"></div><div style="top:129px;background:linear-gradient(90deg,#00d2ff 0px,#00ffff 2.79px,#00ff00 20.88px,#ffff00 38.96px,#ffe600 40.72px,#ff1600 81.45px,#ffff00 95.31px,#00ff00 110.49px,#00ffc4 122.18px,#00ffb1 162.9px)"></div><div style="top:130px;background:linear-gradient(90deg,#00cbff 0px,#00ffff 3.22px,#00ff00 21.12px,#ffff00 39.02px,#ffe700 40.72px,#ff1900 81.45px,#ffff00 95.25px,#00ff00 110.56px,#00ffc1 122.18px,#00ffaf 162.9px)"></div><div style="top:131px;background:linear-gradient(90deg,#00c3ff 0px,#00ffff 3.65px,#00ff00 21.37px,#ffff00 39.09px,#ffe700 40.72px,#ff1c00 81.45px,#ffff00 95.19px,#00ff00 110.64px,#00ffbe 122.18px,#00ffad 162.9px)"></div><div style="top:132px;background:linear-gradient(90deg,#00bcff 0px,#00ffff 4.06px,#00ff00 21.6px,#ffff00 39.15px,#ffe800 40.72px,#ff1f00 81.45px,#ffff00 95.14px,#00ff00 110.72px,#00ffbc 122.18px,#00ffab 162.9px)"></div><div style="top:133px;background:linear-gradient(90deg,#00b4ff 0px,#00ffff 4.46px,#00ff00 21.84px,#ffff00 39.21px,#ffe900 40.72px,#ff2200 81.45px,#ffff00 95.08px,#00ff00 110.79px,#00ffb9 122.18px,#00ffa9 162.9px)"></div><div style="top:134px;background:linear-gradient(90deg,#00adff 0px,#00ffff 4.86px,#00ff00 22.06px,#ffff00 39.27px,#ffe900 40.72px,#ff2500 81.45px,#ffff00 95.02px,#00ff00 110.88px,#00ffb6 122.18px,#00ffa7 162.9px)"></div><div style="top:135px;background:linear-gradient(90deg,#00a6ff 0px,#00ffff 5.25px,#00ff00 22.29px,#ffff00 39.33px,#ffea00 40.72px,#ff2800 81.45px,#ffff00 94.95px,#00ff00 110.96px,#00ffb3 122.18px,#00ffa6 162.9px)"></div><div style="top:136px;background:linear-gradient(90deg,#009eff 0px,#00ffff 5.63px,#00ff00 22.51px,#ffff00 39.38px,#ffeb00 40.72px,#ff2b00 81.45px,#ffff00 94.89px,#00ff00 111.04px,#00ffb0 122.18px,#00ffa4 162.9px)"></div><div style="top:137px;background:linear-gradient(90deg,#0097ff 0px,#00ffff 6.01px,#00ff00 22.72px,#ffff00 39.44px,#ffeb00 40.72px,#ff2e00 81.45px,#ffff00 94.83px,#00ff00 111.13px,#00ffad 122.18px,#00ffa2 162.9px)"></div><div style="top:138px;background:linear-gradient(90deg,#008fff 0px,#00ffff 6.38px,#00ff00 22.93px,#ffff00 39.49px,#ffec00 40.72px,#ff3100 81.45px,#ffff00 94.76px,#00ff00 111.21px,#00ffaa 122.18px,#00ffa0 162.9px)"></div><div style="top:139px;background:linear-gradient(90deg,#0088ff 0px,#00ffff 6.74px,#00ff00 23.14px,#ffff00 39.55px,#ffed00 40.72px,#ff3400 81.45px,#ffff00 94.7px,#00ff00 111.3px,#00ffa7 122.18px,#00ff9e 162.9px)"></div><div style="top:140px;background:linear-gradient(90deg,#0080ff 0px,#00ffff 7.09px,#00ff00 23.34px,#ffff00 39.6px,#ffed00 40.72px,#ff3700 81.45px,#ffff00 94.63px,#00ff00 111.39px,#00ffa4 122.18px,#00ff9c 162.9px)"></div><div style="top:141px;background:linear-gradient(90deg,#0079ff 0px,#00ffff 7.44px,#00ff00 23.54px,#ffff00 39.65px,#ffee00 40.72px,#ff3900 81.45px,#ffff00 94.56px,#00ff00 111.48px,#00ffa1 122.18px,#00ff9a 162.9px)"></div><div style="top:142px;background:linear-gradient(90deg,#0072ff 0px,#00ffff 7.78px,#00ff00 23.74px,#ffff00 39.7px,#ffef00 40.72px,#ff3c00 81.45px,#ffff00 94.49px,#00ff00 111.58px,#00ff9e 122.18px,#00ff98 162.9px)"></div><div style="top:143px;background:linear-gradient(90deg,#006bfe 0px,#006eff 0.21px,#00ffff 8.12px,#00ff00 23.93px,#ffff00 39.75px,#ffef00 40.72px,#ff3f00 81.45px,#ffff00 94.42px,#00ff00 111.67px,#00ff9b 122.18px,#00ff96 162.9px)"></div><div style="top:144px;background:linear-gradient(90deg,#0166fd 0px,#006eff 0.61px,#00ffff 8.45px,#00ff00 24.12px,#ffff00 39.8px,#fff000 40.72px,#ff4200 81.45px,#ffff00 94.34px,#00ff00 111.77px,#00ff98 122.18px,#00ff94 162.9px)"></div><div style="top:145px;background:linear-gradient(90deg,#0261fc 0px,#006eff 1px,#00ffff 8.77px,#00ff00 24.31px,#ffff00 39.85px,#fff100 40.72px,#ff4500 81.45px,#ffff00 94.27px,#00ff00 111.87px,#00ff95 122.18px,#00ff92 162.9px)"></div><div style="top:146px;background:linear-gradient(90deg,#025cfb 0px,#006eff 1.39px,#00ffff 9.09px,#00ff00 24.49px,#ffff00 39.89px,#fff100 40.72px,#ff4800 81.45px,#ffff00 94.19px,#00ff00 111.97px,#00ff92 122.18px,#00ff90 162.9px)"></div><div style="top:147px;background:linear-gradient(90deg,#0357fa 0px,#006eff 1.77px,#00ffff 9.4px,#00ff00 24.67px,#ffff00 39.94px,#fff200 40.72px,#ff4b00 81.45px,#ffff00 94.12px,#00ff00 112.07px,#00ff8f 122.18px,#00ff8e 162.9px)"></div><div style="top:148px;background:linear-gradient(90deg,#0352f9 0px,#006eff 2.14px,#00ffff 9.71px,#00ff00 24.85px,#ffff00 39.99px,#fff300 40.72px,#ff4e00 81.45px,#ffff00 94.04px,#00ff00 112.18px,#00ff8d 122.18px,#00ff8c 162.9px)"></div><div style="top:149px;background:linear-gradient(90deg,#044df8 0px,#006eff 2.51px,#00ffff 10.01px,#00ff00 25.02px,#ffff00 40.03px,#fff300 40.72px,#ff5100 81.45px,#ffff00 93.96px,#00ff00 112.29px,#00ff8a 122.18px,#00ff8a 162.9px)"></div><div style="top:150px;background:linear-gradient(90deg,#0547f7 0px,#006eff 2.87px,#00ffff 10.31px,#00ff00 25.19px,#ffff00 40.07px,#fff400 40.72px,#ff5400 81.45px,#ffff00 93.87px,#00ff00 112.4px,#00ff87 122.18px,#00ff88 162.9px)"></div><div style="top:151px;background:linear-gradient(90deg,#0542f6 0px,#006eff 3.22px,#00ffff 10.6px,#00ff00 25.36px,#ffff00 40.12px,#fff500 40.72px,#ff5700 81.45px,#ffff00 93.79px,#00ff00 112.51px,#00ff84 122.18px,#00ff86 162.9px)"></div><div style="top:152px;background:linear-gradient(90deg,#063df5 0px,#006eff 3.57px,#00ffff 10.89px,#00ff00 25.52px,#ffff00 40.16px,#fff500 40.72px,#ff5a00 81.45px,#ffff00 93.7px,#00ff00 112.62px,#00ff81 122.18px,#00ff84 162.9px)"></div><div style="top:153px;background:linear-gradient(90deg,#0638f4 0px,#006eff 3.91px,#00ffff 11.17px,#00ff00 25.69px,#ffff00 40.2px,#fff600 40.72px,#ff5d00 81.45px,#ffff00 93.62px,#00ff00 112.74px,#00ff7e 122.18px,#00ff82 162.9px)"></div><div style="top:154px;background:linear-gradient(90deg,#0733f3 0px,#006eff 4.25px,#00ffff 11.45px,#00ff00 25.84px,#ffff00 40.24px,#fff600 40.72px,#ff6000 81.45px,#ffff00 93.53px,#00ff00 112.86px,#00ff7b 122.18px,#00ff80 162.9px)"></div><div style="top:155px;background:linear-gradient(90deg,#082ef2 0px,#006eff 4.58px,#00ffff 11.72px,#00ff00 26px,#ffff00 40.28px,#fff700 40.72px,#ff6300 81.45px,#ffff00 93.44px,#00ff00 112.98px,#00ff78 122.18px,#00ff7e 162.9px)"></div><div style="top:156px;background:linear-gradient(90deg,#0829f1 0px,#006eff 4.91px,#00ffff 11.99px,#00ff00 26.16px,#ffff00 40.32px,#fff800 40.72px,#ff6600 81.45px,#ffff00 93.34px,#00ff00 113.11px,#00ff75 122.18px,#00ff7c 162.9px)"></div><div style="top:157px;background:linear-gradient(90deg,#0924f0 0px,#006eff 5.23px,#00ffff 12.25px,#00ff00 26.31px,#ffff00 40.36px,#fff800 40.72px,#ff6900 81.45px,#ffff00 93.25px,#00ff00 113.23px,#00ff72 122.18px,#00ff7a 162.9px)"></div><div style="top:158px;background:linear-gradient(90deg,#0a1eef 0px,#006eff 5.54px,#00ffff 12.51px,#00ff00 26.46px,#ffff00 40.4px,#fff900 40.72px,#ff6b00 81.45px,#ffff00 93.15px,#00ff00 113.37px,#00ff6f 122.18px,#00ff78 162.9px)"></div><div style="top:159px;background:linear-gradient(90deg,#0a19ee 0px,#006eff 5.85px,#00ffff 12.77px,#00ff00 26.6px,#ffff00 40.44px,#fffa00 40.72px,#ff6e00 81.45px,#ffff00 93.05px,#00ff00 113.5px,#00ff6c 122.18px,#00ff76 162.9px)"></div><div style="top:160px;background:linear-gradient(90deg,#0b14ed 0px,#006eff 6.16px,#00ffff 13.02px,#00ff00 26.75px,#ffff00 40.48px,#fffa00 40.72px,#ff7100 81.45px,#ffff00 92.94px,#00ff00 113.64px,#00ff69 122.18px,#00ff75 162.9px)"></div><div style="top:161px;background:linear-gradient(90deg,#0b0fec 0px,#006eff 6.46px,#00ffff 13.27px,#00ff00 26.89px,#ffff00 40.51px,#fffb00 40.72px,#ff7400 81.45px,#ffff00 92.84px,#00ff00 113.78px,#00ff66 122.18px,#00ff73 162.9px)"></div><div style="top:162px;background:linear-gradient(90deg,#0c0aeb 0px,#006eff 6.76px,#00ffff 13.52px,#00ff00 27.03px,#ffff00 40.55px,#fffc00 40.72px,#ff7700 81.45px,#ffff00 92.73px,#00ff00 113.92px,#00ff63 122.18px,#00ff71 162.9px)"></div></div>
<svg width="550" height="417" viewBox="0 0 550 417" style="position:absolute;left:0;top:0">
<rect x="34.9" y="6.5" width="234.9" height="173.4" fill="none" stroke="#3a3a3a" stroke-width="1.1"/>
<path d="M54.47 179.9v3M103.41 179.9v3M152.35 179.9v3M201.29 179.9v3M250.22 179.9v3M78.94 179.9v1.6M127.88 179.9v1.6M176.82 179.9v1.6M225.76 179.9v1.6M34.9 179.9h-3M34.9 145.22h-3M34.9 110.54h-3M34.9 75.86h-3M34.9 41.18h-3M34.9 6.5h-3M34.9 162.56h-1.6M34.9 127.88h-1.6M34.9 93.2h-1.6M34.9 58.52h-1.6M34.9 23.84h-1.6" stroke="#3a3a3a" stroke-width="0.9" fill="none"/>
<text x="54.47" y="191.9" font-size="8.6" text-anchor="middle" font-family="Liberation Serif" font-weight="bold" >300</text>
<text x="103.41" y="191.9" font-size="8.6" text-anchor="middle" font-family="Liberation Serif" font-weight="bold" >325</text>
<text x="152.35" y="191.9" font-size="8.6" text-anchor="middle" font-family="Liberation Serif" font-weight="bold" >350</text>
<text x="201.29" y="191.9" font-size="8.6" text-anchor="middle" font-family="Liberation Serif" font-weight="bold" >375</text>
<text x="250.22" y="191.9" font-size="8.6" text-anchor="middle" font-family="Liberation Serif" font-weight="bold" >400</text>
<text x="29.7" y="182.82" font-size="8.6" text-anchor="end" font-family="Liberation Serif" font-weight="bold" >98.4</text>
<text x="29.7" y="148.14" font-size="8.6" text-anchor="end" font-family="Liberation Serif" font-weight="bold" >98.6</text>
<text x="29.7" y="113.46" font-size="8.6" text-anchor="end" font-family="Liberation Serif" font-weight="bold" >98.8</text>
<text x="29.7" y="78.78" font-size="8.6" text-anchor="end" font-family="Liberation Serif" font-weight="bold" >99.0</text>
<text x="29.7" y="44.1" font-size="8.6" text-anchor="end" font-family="Liberation Serif" font-weight="bold" >99.2</text>
<text x="29.7" y="9.42" font-size="8.6" text-anchor="end" font-family="Liberation Serif" font-weight="bold" >99.4</text>
<path d="M54.47 156.49V172.1M52.97 156.49h3M52.97 172.1h3M103.41 122.68V136.55M101.91 122.68h3M101.91 136.55h3M152.35 127.88V141.75M150.85 127.88h3M150.85 141.75h3M201.29 133.08V146.95M199.79 133.08h3M199.79 146.95h3M250.22 138.28V148.69M248.72 138.28h3M248.72 148.69h3" stroke="#7a7a7a" stroke-width="0.7" fill="none"/>
<path d="M54.47 52.28V75.17M52.97 52.28h3M52.97 75.17h3M103.41 41.7V78.81M101.91 41.7h3M101.91 78.81h3M152.35 72.39V89.73M150.85 72.39h3M150.85 89.73h3M201.29 79.33V120.94M199.79 79.33h3M199.79 120.94h3M250.22 86.26V93.2M248.72 86.26h3M248.72 93.2h3" stroke="#f07070" stroke-width="0.7" fill="none"/>
<path d="M54.47 37.19V55.57M52.97 37.19h3M52.97 55.57h3M103.41 24.19V37.37M101.91 24.19h3M101.91 37.37h3M152.35 66.32V78.46M150.85 66.32h3M150.85 78.46h3M201.29 72.39V82.8M199.79 72.39h3M199.79 82.8h3M250.22 75.86V86.26M248.72 75.86h3M248.72 86.26h3" stroke="#6c9cf0" stroke-width="0.7" fill="none"/>
<path d="M54.47 105.34V115.74M52.97 105.34h3M52.97 115.74h3M103.41 112.27V140.02M101.91 112.27h3M101.91 140.02h3M152.35 112.27V122.68M150.85 112.27h3M150.85 122.68h3M201.29 115.74V127.88M199.79 115.74h3M199.79 127.88h3M250.22 110.54V124.41M248.72 110.54h3M248.72 124.41h3" stroke="#6cc090" stroke-width="0.7" fill="none"/>
<path d="M54.47 97.54V127.01M52.97 97.54h3M52.97 127.01h3M103.41 109.67V135.68M101.91 109.67h3M101.91 135.68h3M152.35 121.81V133.95M150.85 121.81h3M150.85 133.95h3M201.29 128.75V140.89M199.79 128.75h3M199.79 140.89h3M250.22 121.81V151.29M248.72 121.81h3M248.72 151.29h3" stroke="#c09cf0" stroke-width="0.7" fill="none"/>
<polyline points="54.47,164.29 103.41,129.61 152.35,134.82 201.29,140.02 250.22,143.49" fill="none" stroke="#3c3c3c" stroke-width="1.3"/>
<rect x="52.86" y="162.68" width="3.23" height="3.23" fill="#3c3c3c"/>
<rect x="101.8" y="128" width="3.23" height="3.23" fill="#3c3c3c"/>
<rect x="150.73" y="133.2" width="3.23" height="3.23" fill="#3c3c3c"/>
<rect x="199.67" y="138.4" width="3.23" height="3.23" fill="#3c3c3c"/>
<rect x="248.61" y="141.87" width="3.23" height="3.23" fill="#3c3c3c"/>
<polyline points="54.47,63.72 103.41,60.25 152.35,81.06 201.29,100.14 250.22,89.73" fill="none" stroke="#ee2b2b" stroke-width="1.3"/>
<circle cx="54.47" cy="63.72" r="1.9" fill="#ee2b2b"/>
<circle cx="103.41" cy="60.25" r="1.9" fill="#ee2b2b"/>
<circle cx="152.35" cy="81.06" r="1.9" fill="#ee2b2b"/>
<circle cx="201.29" cy="100.14" r="1.9" fill="#ee2b2b"/>
<circle cx="250.22" cy="89.73" r="1.9" fill="#ee2b2b"/>
<polyline points="54.47,46.38 103.41,30.78 152.35,72.39 201.29,77.59 250.22,81.06" fill="none" stroke="#1f6ee8" stroke-width="1.3"/>
<path d="M54.47 44.2L56.56 47.9L52.38 47.9Z" fill="#1f6ee8"/>
<path d="M103.41 28.59L105.5 32.3L101.32 32.3Z" fill="#1f6ee8"/>
<path d="M152.35 70.21L154.44 73.91L150.26 73.91Z" fill="#1f6ee8"/>
<path d="M201.29 75.41L203.38 79.11L199.2 79.11Z" fill="#1f6ee8"/>
<path d="M250.22 78.88L252.31 82.58L248.13 82.58Z" fill="#1f6ee8"/>
<polyline points="54.47,110.54 103.41,126.15 152.35,117.48 201.29,121.81 250.22,117.48" fill="none" stroke="#22a050" stroke-width="1.3"/>
<path d="M54.47 112.73L56.56 109.02L52.38 109.02Z" fill="#22a050"/>
<path d="M103.41 128.33L105.5 124.63L101.32 124.63Z" fill="#22a050"/>
<path d="M152.35 119.66L154.44 115.96L150.26 115.96Z" fill="#22a050"/>
<path d="M201.29 124L203.38 120.29L199.2 120.29Z" fill="#22a050"/>
<path d="M250.22 119.66L252.31 115.96L248.13 115.96Z" fill="#22a050"/>
<polyline points="54.47,112.27 103.41,122.68 152.35,127.88 201.29,134.82 250.22,136.55" fill="none" stroke="#a866e6" stroke-width="1.3"/>
<path d="M54.47 109.99L56.56 112.27L54.47 114.55L52.38 112.27Z" fill="#a866e6"/>
<path d="M103.41 120.4L105.5 122.68L103.41 124.96L101.32 122.68Z" fill="#a866e6"/>
<path d="M152.35 125.6L154.44 127.88L152.35 130.16L150.26 127.88Z" fill="#a866e6"/>
<path d="M201.29 132.54L203.38 134.82L201.29 137.1L199.2 134.82Z" fill="#a866e6"/>
<path d="M250.22 134.27L252.31 136.55L250.22 138.83L248.13 136.55Z" fill="#a866e6"/>
<path d="M200.3 14.5H220.8" stroke="#3c3c3c" stroke-width="1.3"/>
<rect x="208.94" y="12.88" width="3.23" height="3.23" fill="#3c3c3c"/>
<text x="223.6" y="17.63" font-size="9.2" text-anchor="start" font-family="Liberation Serif" font-weight="bold" >500 mm/s</text>
<path d="M200.3 26H220.8" stroke="#ee2b2b" stroke-width="1.3"/>
<circle cx="210.55" cy="26" r="1.9" fill="#ee2b2b"/>
<text x="223.6" y="29.13" font-size="9.2" text-anchor="start" font-family="Liberation Serif" font-weight="bold" >650 mm/s</text>
<path d="M200.3 37.6H220.8" stroke="#1f6ee8" stroke-width="1.3"/>
<path d="M210.55 35.41L212.64 39.12L208.46 39.12Z" fill="#1f6ee8"/>
<text x="223.6" y="40.73" font-size="9.2" text-anchor="start" font-family="Liberation Serif" font-weight="bold" >800 mm/s</text>
<path d="M200.3 49.2H220.8" stroke="#22a050" stroke-width="1.3"/>
<path d="M210.55 51.39L212.64 47.68L208.46 47.68Z" fill="#22a050"/>
<text x="223.6" y="52.33" font-size="9.2" text-anchor="start" font-family="Liberation Serif" font-weight="bold" >950 mm/s</text>
<path d="M200.3 60.8H220.8" stroke="#a866e6" stroke-width="1.3"/>
<path d="M210.55 58.52L212.64 60.8L210.55 63.08L208.46 60.8Z" fill="#a866e6"/>
<text x="223.6" y="63.93" font-size="9.2" text-anchor="start" font-family="Liberation Serif" font-weight="bold" >1100 mm/s</text>
<text x="152.4" y="203.8" font-size="11.15" text-anchor="middle" font-family="Liberation Serif" font-weight="bold" >Laser power (W)</text>
<text x="0" y="0" font-size="10.9" text-anchor="middle" font-family="Liberation Serif" font-weight="bold" transform="translate(9.3,92.7) rotate(-90)">Relative density (%)</text>
<text x="6.3" y="22" font-size="12.6" text-anchor="start" font-family="Liberation Serif" font-weight="bold" >(a)</text>
<rect x="303.8" y="6.3" width="237.6" height="173.6" fill="none" stroke="#3a3a3a" stroke-width="1.1"/>
<path d="M320.77 179.9v3M371.69 179.9v3M422.6 179.9v3M473.51 179.9v3M524.43 179.9v3M346.23 179.9v1.6M397.14 179.9v1.6M448.06 179.9v1.6M498.97 179.9v1.6M303.8 164.12h-3M303.8 132.55h-3M303.8 100.99h-3M303.8 69.43h-3M303.8 37.86h-3M303.8 6.3h-3M303.8 148.34h-1.6M303.8 116.77h-1.6M303.8 85.21h-1.6M303.8 53.65h-1.6M303.8 22.08h-1.6" stroke="#3a3a3a" stroke-width="0.9" fill="none"/>
<text x="320.77" y="191.2" font-size="7.8" text-anchor="middle" font-family="Liberation Serif" font-weight="bold" >500</text>
<text x="371.69" y="191.2" font-size="7.8" text-anchor="middle" font-family="Liberation Serif" font-weight="bold" >650</text>
<text x="422.6" y="191.2" font-size="7.8" text-anchor="middle" font-family="Liberation Serif" font-weight="bold" >800</text>
<text x="473.51" y="191.2" font-size="7.8" text-anchor="middle" font-family="Liberation Serif" font-weight="bold" >950</text>
<text x="524.43" y="191.2" font-size="7.8" text-anchor="middle" font-family="Liberation Serif" font-weight="bold" >1100</text>
<text x="299.7" y="166.84" font-size="8.0" text-anchor="end" font-family="Liberation Serif" font-weight="bold" >98.4</text>
<text x="299.7" y="135.27" font-size="8.0" text-anchor="end" font-family="Liberation Serif" font-weight="bold" >98.6</text>
<text x="299.7" y="103.71" font-size="8.0" text-anchor="end" font-family="Liberation Serif" font-weight="bold" >98.8</text>
<text x="299.7" y="72.15" font-size="8.0" text-anchor="end" font-family="Liberation Serif" font-weight="bold" >99.0</text>
<text x="299.7" y="40.58" font-size="8.0" text-anchor="end" font-family="Liberation Serif" font-weight="bold" >99.2</text>
<text x="299.7" y="9.02" font-size="8.0" text-anchor="end" font-family="Liberation Serif" font-weight="bold" >99.4</text>
<path d="M320.77 142.81V157.02M319.27 142.81h3M319.27 157.02h3M371.69 47.96V68.8M370.19 47.96h3M370.19 68.8h3M422.6 34.23V50.96M421.1 34.23h3M421.1 50.96h3M473.51 96.26V105.73M472.01 96.26h3M472.01 105.73h3M524.43 89.15V115.98M522.93 89.15h3M522.93 115.98h3" stroke="#7a7a7a" stroke-width="0.7" fill="none"/>
<path d="M320.77 112.04V124.66M319.27 112.04h3M319.27 124.66h3M371.69 38.34V72.11M370.19 38.34h3M370.19 72.11h3M422.6 22.4V34.39M421.1 22.4h3M421.1 34.39h3M473.51 102.57V127.82M472.01 102.57h3M472.01 127.82h3M524.43 100.2V123.87M522.93 100.2h3M522.93 123.87h3" stroke="#f07070" stroke-width="0.7" fill="none"/>
<path d="M320.77 116.77V129.4M319.27 116.77h3M319.27 129.4h3M371.69 66.27V82.05M370.19 66.27h3M370.19 82.05h3M422.6 60.75V71.79M421.1 60.75h3M421.1 71.79h3M473.51 102.57V112.04M472.01 102.57h3M472.01 112.04h3M524.43 111.25V122.3M522.93 111.25h3M522.93 122.3h3" stroke="#6c9cf0" stroke-width="0.7" fill="none"/>
<path d="M320.77 121.51V134.13M319.27 121.51h3M319.27 134.13h3M371.69 72.58V110.46M370.19 72.58h3M370.19 110.46h3M422.6 66.27V75.74M421.1 66.27h3M421.1 75.74h3M473.51 105.73V116.77M472.01 105.73h3M472.01 116.77h3M524.43 117.56V128.61M522.93 117.56h3M522.93 128.61h3" stroke="#6cc090" stroke-width="0.7" fill="none"/>
<path d="M320.77 126.24V135.71M319.27 126.24h3M319.27 135.71h3M371.69 78.9V85.21M370.19 78.9h3M370.19 85.21h3M422.6 69.43V78.9M421.1 69.43h3M421.1 78.9h3M473.51 100.99V113.62M472.01 100.99h3M472.01 113.62h3M524.43 111.25V138.08M522.93 111.25h3M522.93 138.08h3" stroke="#c09cf0" stroke-width="0.7" fill="none"/>
<polyline points="320.77,149.91 371.69,58.38 422.6,42.6 473.51,100.99 524.43,102.57" fill="none" stroke="#3c3c3c" stroke-width="1.3"/>
<rect x="319.16" y="148.3" width="3.23" height="3.23" fill="#3c3c3c"/>
<rect x="370.07" y="56.77" width="3.23" height="3.23" fill="#3c3c3c"/>
<rect x="420.99" y="40.98" width="3.23" height="3.23" fill="#3c3c3c"/>
<rect x="471.9" y="99.38" width="3.23" height="3.23" fill="#3c3c3c"/>
<rect x="522.81" y="100.95" width="3.23" height="3.23" fill="#3c3c3c"/>
<polyline points="320.77,118.35 371.69,55.22 422.6,28.39 473.51,115.19 524.43,112.04" fill="none" stroke="#ee2b2b" stroke-width="1.3"/>
<circle cx="320.77" cy="118.35" r="1.9" fill="#ee2b2b"/>
<circle cx="371.69" cy="55.22" r="1.9" fill="#ee2b2b"/>
<circle cx="422.6" cy="28.39" r="1.9" fill="#ee2b2b"/>
<circle cx="473.51" cy="115.19" r="1.9" fill="#ee2b2b"/>
<circle cx="524.43" cy="112.04" r="1.9" fill="#ee2b2b"/>
<polyline points="320.77,123.09 371.69,74.16 422.6,66.27 473.51,107.3 524.43,116.77" fill="none" stroke="#1f6ee8" stroke-width="1.3"/>
<path d="M320.77 120.9L322.86 124.61L318.68 124.61Z" fill="#1f6ee8"/>
<path d="M371.69 71.98L373.78 75.68L369.6 75.68Z" fill="#1f6ee8"/>
<path d="M422.6 64.09L424.69 67.79L420.51 67.79Z" fill="#1f6ee8"/>
<path d="M473.51 105.12L475.6 108.82L471.42 108.82Z" fill="#1f6ee8"/>
<path d="M524.43 114.59L526.52 118.29L522.34 118.29Z" fill="#1f6ee8"/>
<polyline points="320.77,127.82 371.69,91.52 422.6,71.01 473.51,111.25 524.43,123.09" fill="none" stroke="#22a050" stroke-width="1.3"/>
<path d="M320.77 130.01L322.86 126.3L318.68 126.3Z" fill="#22a050"/>
<path d="M371.69 93.71L373.78 90L369.6 90Z" fill="#22a050"/>
<path d="M422.6 73.19L424.69 69.49L420.51 69.49Z" fill="#22a050"/>
<path d="M473.51 113.43L475.6 109.73L471.42 109.73Z" fill="#22a050"/>
<path d="M524.43 125.27L526.52 121.57L522.34 121.57Z" fill="#22a050"/>
<polyline points="320.77,130.98 371.69,82.05 422.6,74.16 473.51,107.3 524.43,124.66" fill="none" stroke="#a866e6" stroke-width="1.3"/>
<path d="M320.77 128.7L322.86 130.98L320.77 133.26L318.68 130.98Z" fill="#a866e6"/>
<path d="M371.69 79.77L373.78 82.05L371.69 84.33L369.6 82.05Z" fill="#a866e6"/>
<path d="M422.6 71.88L424.69 74.16L422.6 76.44L420.51 74.16Z" fill="#a866e6"/>
<path d="M473.51 105.02L475.6 107.3L473.51 109.58L471.42 107.3Z" fill="#a866e6"/>
<path d="M524.43 122.38L526.52 124.66L524.43 126.94L522.34 124.66Z" fill="#a866e6"/>
<path d="M487.6 14.6H508" stroke="#3c3c3c" stroke-width="1.3"/>
<rect x="496.19" y="12.98" width="3.23" height="3.23" fill="#3c3c3c"/>
<text x="510.5" y="17.8" font-size="9.4" text-anchor="start" font-family="Liberation Serif" font-weight="bold" >300 W</text>
<path d="M487.6 26.1H508" stroke="#ee2b2b" stroke-width="1.3"/>
<circle cx="497.8" cy="26.1" r="1.9" fill="#ee2b2b"/>
<text x="510.5" y="29.3" font-size="9.4" text-anchor="start" font-family="Liberation Serif" font-weight="bold" >325 W</text>
<path d="M487.6 37.7H508" stroke="#1f6ee8" stroke-width="1.3"/>
<path d="M497.8 35.52L499.89 39.22L495.71 39.22Z" fill="#1f6ee8"/>
<text x="510.5" y="40.9" font-size="9.4" text-anchor="start" font-family="Liberation Serif" font-weight="bold" >350 W</text>
<path d="M487.6 49.1H508" stroke="#22a050" stroke-width="1.3"/>
<path d="M497.8 51.29L499.89 47.58L495.71 47.58Z" fill="#22a050"/>
<text x="510.5" y="52.3" font-size="9.4" text-anchor="start" font-family="Liberation Serif" font-weight="bold" >375 W</text>
<path d="M487.6 60.8H508" stroke="#a866e6" stroke-width="1.3"/>
<path d="M497.8 58.52L499.89 60.8L497.8 63.08L495.71 60.8Z" fill="#a866e6"/>
<text x="510.5" y="64" font-size="9.4" text-anchor="start" font-family="Liberation Serif" font-weight="bold" >400 W</text>
<text x="422.5" y="202.9" font-size="10.2" text-anchor="middle" font-family="Liberation Serif" font-weight="bold" >Scanning speed (mm/s)</text>
<text x="0" y="0" font-size="10.2" text-anchor="middle" font-family="Liberation Serif" font-weight="bold" transform="translate(281.9,93.0) rotate(-90)">Relative density (%)</text>
<text x="276.5" y="22.3" font-size="12.5" text-anchor="start" font-family="Liberation Serif" font-weight="bold" >(b)</text>
<rect x="33.3" y="213.8" width="232.1" height="173.5" fill="none" stroke="#3a3a3a" stroke-width="1.1"/>
<path d="M33.3 387.3v3M79.72 387.3v3M126.14 387.3v3M172.56 387.3v3M218.98 387.3v3M265.4 387.3v3M56.51 387.3v1.6M102.93 387.3v1.6M149.35 387.3v1.6M195.77 387.3v1.6M242.19 387.3v1.6M33.3 387.3h-3M33.3 352.6h-3M33.3 317.9h-3M33.3 283.2h-3M33.3 248.5h-3M33.3 213.8h-3M33.3 369.95h-1.6M33.3 335.25h-1.6M33.3 300.55h-1.6M33.3 265.85h-1.6M33.3 231.15h-1.6" stroke="#3a3a3a" stroke-width="0.9" fill="none"/>
<text x="33.3" y="398.5" font-size="7.6" text-anchor="middle" font-family="Liberation Serif" font-weight="bold" >80</text>
<text x="79.72" y="398.5" font-size="7.6" text-anchor="middle" font-family="Liberation Serif" font-weight="bold" >120</text>
<text x="126.14" y="398.5" font-size="7.6" text-anchor="middle" font-family="Liberation Serif" font-weight="bold" >160</text>
<text x="172.56" y="398.5" font-size="7.6" text-anchor="middle" font-family="Liberation Serif" font-weight="bold" >200</text>
<text x="218.98" y="398.5" font-size="7.6" text-anchor="middle" font-family="Liberation Serif" font-weight="bold" >240</text>
<text x="265.4" y="398.5" font-size="7.6" text-anchor="middle" font-family="Liberation Serif" font-weight="bold" >280</text>
<text x="28.6" y="390.02" font-size="8.0" text-anchor="end" font-family="Liberation Serif" font-weight="bold" >98.4</text>
<text x="28.6" y="355.32" font-size="8.0" text-anchor="end" font-family="Liberation Serif" font-weight="bold" >98.6</text>
<text x="28.6" y="320.62" font-size="8.0" text-anchor="end" font-family="Liberation Serif" font-weight="bold" >98.8</text>
<text x="28.6" y="285.92" font-size="8.0" text-anchor="end" font-family="Liberation Serif" font-weight="bold" >99.0</text>
<text x="28.6" y="251.22" font-size="8.0" text-anchor="end" font-family="Liberation Serif" font-weight="bold" >99.2</text>
<text x="28.6" y="216.52" font-size="8.0" text-anchor="end" font-family="Liberation Serif" font-weight="bold" >99.4</text>
<path d="M84.36 213.6V386.8M95.97 213.6V386.8M174.88 213.6V386.8" stroke="#333" stroke-width="0.95" stroke-dasharray="2.6 2.9" fill="none"/>
<text x="73.6" y="385.1" font-size="7.9" font-family="Liberation Serif" font-weight="bold" textLength="10" lengthAdjust="spacingAndGlyphs" fill="#111">124</text>
<text x="96.7" y="385.1" font-size="7.9" font-family="Liberation Serif" font-weight="bold" textLength="10" lengthAdjust="spacingAndGlyphs" fill="#111">134</text>
<text x="175.8" y="385.2" font-size="7.9" font-family="Liberation Serif" font-weight="bold" textLength="10" lengthAdjust="spacingAndGlyphs" fill="#111">202</text>
<path d="M95.9 232.5C97.7 231.67 99.47 231.9 100.9 232.2C102.33 232.5 103.78 233.35 104.5 234.3C105.22 235.25 105.2 236.33 105.2 237.9C105.2 239.47 104.9 241.53 104.5 243.7C104.1 245.87 103.4 248.52 102.8 250.9C102.2 253.28 101.38 255.85 100.9 258C100.42 260.15 99.9 262.12 99.9 263.8C99.9 265.48 100.13 266.78 100.9 268.1C101.67 269.42 102.73 270.47 104.5 271.7C106.27 272.93 108.08 274.23 111.5 275.5C114.92 276.77 120.83 278.02 125 279.3C129.17 280.58 133.78 281.58 136.5 283.2C139.22 284.82 140.83 287.25 141.3 289C141.77 290.75 140.75 292.85 139.3 293.7C137.85 294.55 135.32 294.42 132.6 294.1C129.88 293.78 126.52 292.82 123 291.8C119.48 290.78 115.07 289.55 111.5 288C107.93 286.45 104.33 284.13 101.6 282.5C98.87 280.87 97.25 279.88 95.1 278.2C92.95 276.52 90.62 274.32 88.7 272.4C86.78 270.48 84.92 268.62 83.6 266.7C82.28 264.78 81.43 262.7 80.8 260.9C80.17 259.1 79.68 257.7 79.8 255.9C79.92 254.1 80.62 252.13 81.5 250.1C82.38 248.07 83.67 245.85 85.1 243.7C86.53 241.55 88.3 239.07 90.1 237.2C91.9 235.33 94.1 233.33 95.9 232.5Z" fill="none" stroke="#505050" stroke-width="1.2" stroke-dasharray="6.2 3.1"/>
<path d="M113.1 270.7C113.25 269.1 114 265.6 116.3 264C118.6 262.4 123.53 261.52 126.9 261.1C130.27 260.68 134.1 261.02 136.5 261.5C138.9 261.98 139.7 262.47 141.3 264C142.9 265.53 144.35 268.3 146.1 270.7C147.85 273.1 149.25 276 151.8 278.4C154.35 280.8 157.88 283.35 161.4 285.1C164.92 286.85 169.7 287.93 172.9 288.9C176.1 289.87 178.67 289.77 180.6 290.9C182.53 292.03 184.18 293.63 184.5 295.7C184.82 297.77 183.78 301.07 182.5 303.3C181.22 305.53 179.03 307.5 176.8 309.1C174.57 310.7 171.67 312.58 169.1 312.9C166.53 313.22 163.97 312.27 161.4 311C158.83 309.73 155.93 307.53 153.7 305.3C151.47 303.07 149.75 300.48 148 297.6C146.25 294.72 144.8 290.88 143.2 288C141.6 285.12 139.85 282.38 138.4 280.3C136.95 278.22 136.1 276.52 134.5 275.5C132.9 274.48 131.03 274.3 128.8 274.2C126.57 274.1 123.33 275 121.1 274.9C118.87 274.8 116.73 274.3 115.4 273.6C114.07 272.9 112.95 272.3 113.1 270.7Z" fill="none" stroke="#505050" stroke-width="1.2" stroke-dasharray="6.2 3.1"/>
<path d="M40.9 316.4C41.7 315.5 43.85 314.2 45.3 314.2C46.75 314.2 47.78 314.77 49.6 316.4C51.42 318.03 53.28 321.65 56.2 324C59.12 326.35 63.1 328.32 67.1 330.5C71.1 332.68 76.57 335.1 80.2 337.1C83.83 339.1 86.9 340.68 88.9 342.5C90.9 344.32 92.57 346.53 92.2 348C91.83 349.47 89.8 351.02 86.7 351.3C83.6 351.58 77.97 350.62 73.6 349.7C69.23 348.78 64.5 347.72 60.5 345.8C56.5 343.88 52.68 341.28 49.6 338.2C46.52 335.12 43.52 330.4 42 327.3C40.48 324.2 40.68 321.42 40.5 319.6C40.32 317.78 40.1 317.3 40.9 316.4Z" fill="none" stroke="#505050" stroke-width="1.2" stroke-dasharray="6.2 3.1"/>
<path d="M52.9 316.4C53.27 315.23 52.75 315.07 56.2 314.8C59.65 314.53 67.42 314.28 73.6 314.8C79.78 315.32 88.2 316.92 93.3 317.9C98.4 318.88 101.67 319.87 104.2 320.7C106.73 321.53 108.32 321.8 108.5 322.9C108.68 324 107.12 325.67 105.3 327.3C103.48 328.93 100.33 331.07 97.6 332.7C94.87 334.33 91.8 336.08 88.9 337.1C86 338.12 83.1 338.98 80.2 338.8C77.3 338.62 74.78 337.73 71.5 336C68.22 334.27 63.42 330.77 60.5 328.4C57.58 326.03 55.27 323.8 54 321.8C52.73 319.8 52.53 317.57 52.9 316.4Z" fill="none" stroke="#505050" stroke-width="1.2" stroke-dasharray="6.2 3.1"/>
<path d="M179 337C180.17 336.1 181.5 335.1 184 334.6C186.5 334.1 189.67 333.83 194 334C198.33 334.17 204 334.6 210 335.6C216 336.6 223.67 338.43 230 340C236.33 341.57 243.67 343.33 248 345C252.33 346.67 254.17 348.5 256 350C257.83 351.5 259.33 352.5 259 354C258.67 355.5 257.17 357.5 254 359C250.83 360.5 245.67 361.33 240 363C234.33 364.67 226.67 367.17 220 369C213.33 370.83 206 372.57 200 374C194 375.43 188 377 184 377.6C180 378.2 178.33 377.87 176 377.6C173.67 377.33 171.33 377.1 170 376C168.67 374.9 167.83 373.67 168 371C168.17 368.33 169.83 363.83 171 360C172.17 356.17 174 351.33 175 348C176 344.67 176.33 341.83 177 340C177.67 338.17 177.83 337.9 179 337Z" fill="none" stroke="#505050" stroke-width="1.2" stroke-dasharray="6.2 3.1"/>
<rect x="170.9" y="370.03" width="3.31" height="3.31" fill="#3c3c3c"/>
<rect x="117.34" y="269.4" width="3.31" height="3.31" fill="#3c3c3c"/>
<rect x="83.86" y="252.05" width="3.31" height="3.31" fill="#3c3c3c"/>
<rect x="60.96" y="316.24" width="3.31" height="3.31" fill="#3c3c3c"/>
<rect x="44.3" y="317.98" width="3.31" height="3.31" fill="#3c3c3c"/>
<circle cx="191.9" cy="336.99" r="1.95" fill="#ee2b2b"/>
<circle cx="133.88" cy="267.59" r="1.95" fill="#ee2b2b"/>
<circle cx="97.61" cy="238.09" r="1.95" fill="#ee2b2b"/>
<circle cx="72.8" cy="333.52" r="1.95" fill="#ee2b2b"/>
<circle cx="54.75" cy="330.05" r="1.95" fill="#ee2b2b"/>
<path d="M211.24 339.95L213.39 343.75L209.1 343.75Z" fill="#1f6ee8"/>
<path d="M148.75 286.16L150.9 289.97L146.61 289.97Z" fill="#1f6ee8"/>
<path d="M109.7 277.49L111.84 281.29L107.55 281.29Z" fill="#1f6ee8"/>
<path d="M82.98 322.6L85.12 326.4L80.83 326.4Z" fill="#1f6ee8"/>
<path d="M63.54 333.01L65.69 336.81L61.4 336.81Z" fill="#1f6ee8"/>
<path d="M230.58 349.64L232.73 345.84L228.44 345.84Z" fill="#22a050"/>
<path d="M163.63 309.73L165.78 305.93L161.49 305.93Z" fill="#22a050"/>
<path d="M121.79 287.18L123.93 283.38L119.64 283.38Z" fill="#22a050"/>
<path d="M93.16 331.42L95.3 327.62L91.01 327.62Z" fill="#22a050"/>
<path d="M72.33 344.43L74.48 340.63L70.19 340.63Z" fill="#22a050"/>
<path d="M249.93 348.53L252.07 350.87L249.93 353.21L247.78 350.87Z" fill="#a866e6"/>
<path d="M178.51 294.74L180.66 297.08L178.51 299.42L176.37 297.08Z" fill="#a866e6"/>
<path d="M133.88 286.07L136.02 288.41L133.88 290.75L131.73 288.41Z" fill="#a866e6"/>
<path d="M103.34 322.5L105.48 324.84L103.34 327.18L101.19 324.84Z" fill="#a866e6"/>
<path d="M81.13 341.59L83.27 343.93L81.13 346.26L78.98 343.93Z" fill="#a866e6"/>
<rect x="228.04" y="219.94" width="3.31" height="3.31" fill="#3c3c3c"/>
<text x="240.4" y="224.22" font-size="7.7" text-anchor="start" font-family="Liberation Serif" font-weight="bold" >300 W</text>
<circle cx="229.7" cy="231.6" r="1.95" fill="#ee2b2b"/>
<text x="240.4" y="234.22" font-size="7.7" text-anchor="start" font-family="Liberation Serif" font-weight="bold" >325 W</text>
<path d="M229.7 239.06L231.84 242.86L227.55 242.86Z" fill="#1f6ee8"/>
<text x="240.4" y="243.92" font-size="7.7" text-anchor="start" font-family="Liberation Serif" font-weight="bold" >350 W</text>
<path d="M229.7 253.34L231.84 249.54L227.55 249.54Z" fill="#22a050"/>
<text x="240.4" y="253.72" font-size="7.7" text-anchor="start" font-family="Liberation Serif" font-weight="bold" >375 W</text>
<path d="M229.7 258.46L231.84 260.8L229.7 263.14L227.55 260.8Z" fill="#a866e6"/>
<text x="240.4" y="263.42" font-size="7.7" text-anchor="start" font-family="Liberation Serif" font-weight="bold" >400 W</text>
<text x="143.2" y="255.7" font-size="8.0" text-anchor="middle" font-family="Liberation Serif" font-weight="bold" >650 mm/s</text>
<text x="118.2" y="301.4" font-size="8.0" text-anchor="middle" font-family="Liberation Serif" font-weight="bold" >800 mm/s</text>
<text x="127.3" y="334.9" font-size="8.0" text-anchor="middle" font-family="Liberation Serif" font-weight="bold" >950 mm/s</text>
<text x="64.4" y="360" font-size="8.0" text-anchor="middle" font-family="Liberation Serif" font-weight="bold" >1100 mm/s</text>
<text x="203.8" y="359" font-size="8.0" text-anchor="middle" font-family="Liberation Serif" font-weight="bold" >500 mm/s</text>
<text x="149.2" y="410.8" font-size="10.3" text-anchor="middle" font-family="Liberation Serif" font-weight="bold">Volumetric energy density (J/mm<tspan font-size="6.5" dy="-3.6">3</tspan><tspan dy="3.6">)</tspan></text>
<text x="0" y="0" font-size="10.2" text-anchor="middle" font-family="Liberation Serif" font-weight="bold" transform="translate(11.3,300.2) rotate(-90)">Relative density (%)</text>
<text x="7.5" y="229.7" font-size="12.5" text-anchor="start" font-family="Liberation Serif" font-weight="bold" >(c)</text>
<defs><linearGradient id="cb" x1="0" y1="1" x2="0" y2="0"><stop offset="0.0" stop-color="#0c0aeb"/><stop offset="0.125" stop-color="#006eff"/><stop offset="0.25" stop-color="#00ffff"/><stop offset="0.5" stop-color="#00ff00"/><stop offset="0.75" stop-color="#ffff00"/><stop offset="1.0" stop-color="#ff0000"/></linearGradient></defs>
<mask id="cmask"><rect x="0" y="0" width="550" height="417" fill="#fff"/><rect x="405" y="339" width="22" height="11" fill="#000"/></mask>
<path d="M350.9 386L350.7 385.1L347.6 360L346.5 345.4L348.2 335.5L351.6 323.8L355.9 314.8L380.4 304.3L396.8 278.6L399.3 294L401.2 304.5L405.5 316.3L409.8 328.2L413.2 335.5L415.3 345L415.6 353.5L415.6 386" fill="none" stroke="#1a1a1a" stroke-width="1.35" stroke-dasharray="3.6 2.8" mask="url(#cmask)"/>
<text x="415.8" y="348.6" font-size="9.0" text-anchor="middle" font-family="Liberation Serif" fill="#000" stroke="#000" stroke-width="0.2">99.00</text>
<rect x="315.3" y="223.3" width="162.9" height="162.2" fill="none" stroke="#222" stroke-width="0.9"/>
<path d="M315.3 385.5v3M356.02 385.5v3M396.75 385.5v3M437.48 385.5v3M478.2 385.5v3M315.3 385.5h-3M315.3 344.95h-3M315.3 304.4h-3M315.3 263.85h-3M315.3 223.3h-3" stroke="#3a3a3a" stroke-width="0.9"/>
<text x="315.3" y="396.6" font-size="7.9" text-anchor="middle" font-family="Liberation Serif" font-weight="bold" >500</text>
<text x="356.02" y="396.6" font-size="7.9" text-anchor="middle" font-family="Liberation Serif" font-weight="bold" >650</text>
<text x="396.75" y="396.6" font-size="7.9" text-anchor="middle" font-family="Liberation Serif" font-weight="bold" >800</text>
<text x="437.48" y="396.6" font-size="7.9" text-anchor="middle" font-family="Liberation Serif" font-weight="bold" >950</text>
<text x="478.2" y="396.6" font-size="7.9" text-anchor="middle" font-family="Liberation Serif" font-weight="bold" >1100</text>
<text x="310.8" y="388.2" font-size="7.9" text-anchor="end" font-family="Liberation Serif" font-weight="bold" >300</text>
<text x="310.8" y="347.65" font-size="7.9" text-anchor="end" font-family="Liberation Serif" font-weight="bold" >325</text>
<text x="310.8" y="307.1" font-size="7.9" text-anchor="end" font-family="Liberation Serif" font-weight="bold" >350</text>
<text x="310.8" y="266.55" font-size="7.9" text-anchor="end" font-family="Liberation Serif" font-weight="bold" >375</text>
<text x="310.8" y="226" font-size="7.9" text-anchor="end" font-family="Liberation Serif" font-weight="bold" >400</text>
<text x="396.4" y="411.9" font-size="10.25" text-anchor="middle" font-family="Liberation Serif" font-weight="bold" >Scanning speed (mm/s)</text>
<text x="0" y="0" font-size="9.3" text-anchor="middle" font-family="Liberation Serif" font-weight="bold" transform="translate(293.6,304.2) rotate(-90)">Laser power (W)</text>
<text x="280.5" y="230" font-size="12.4" text-anchor="start" font-family="Liberation Serif" font-weight="bold" >(d)</text>
<rect x="496.2" y="224.9" width="12.6" height="162.5" fill="url(#cb)"/>
<text x="514.8" y="391" font-size="7.9" text-anchor="start" font-family="Liberation Serif" font-weight="bold" >98.49</text>
<text x="514.8" y="370.69" font-size="7.9" text-anchor="start" font-family="Liberation Serif" font-weight="bold" >98.58</text>
<text x="514.8" y="350.38" font-size="7.9" text-anchor="start" font-family="Liberation Serif" font-weight="bold" >98.68</text>
<text x="514.8" y="330.06" font-size="7.9" text-anchor="start" font-family="Liberation Serif" font-weight="bold" >98.78</text>
<text x="514.8" y="309.75" font-size="7.9" text-anchor="start" font-family="Liberation Serif" font-weight="bold" >98.87</text>
<text x="514.8" y="289.44" font-size="7.9" text-anchor="start" font-family="Liberation Serif" font-weight="bold" >98.97</text>
<text x="514.8" y="269.12" font-size="7.9" text-anchor="start" font-family="Liberation Serif" font-weight="bold" >99.07</text>
<text x="514.8" y="248.81" font-size="7.9" text-anchor="start" font-family="Liberation Serif" font-weight="bold" >99.16</text>
<text x="514.8" y="228.5" font-size="7.9" text-anchor="start" font-family="Liberation Serif" font-weight="bold" >99.26</text>
<path d="M508.8 387.4h3M508.8 367.09h3M508.8 346.77h3M508.8 326.46h3M508.8 306.15h3M508.8 285.84h3M508.8 265.52h3M508.8 245.21h3M508.8 224.9h3" stroke="#3a3a3a" stroke-width="0.8"/>
<text x="465.6" y="218" font-size="8.5" text-anchor="start" font-family="Liberation Serif" font-weight="bold" >Relative density (%)</text>
</svg>
</body></html>
